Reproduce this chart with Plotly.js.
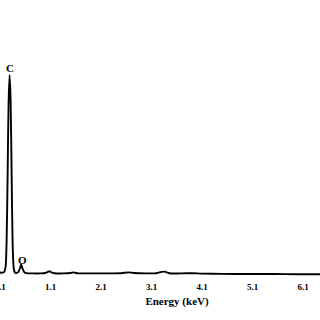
<!DOCTYPE html>
<html>
<head>
<meta charset="utf-8">
<script src="https://cdn.plot.ly/plotly-3.0.1.min.js"></script>
<style>
html,body{margin:0;padding:0;overflow:hidden;background:#fff;}
#chart{width:354px;height:320px;}
</style>
</head>
<body>
<div id="chart"></div>
<script>
// Energy (keV) and counts
const energy = [0.10,0.14,0.18,0.21,0.23,0.25,0.27,0.29,0.31,0.33,0.35,0.37,0.39,0.42,0.46,0.50,0.52,0.54,0.58,0.62,0.75,0.90,1.00,1.05,1.08,1.11,1.18,1.35,1.50,1.56,1.62,1.80,2.00,2.20,2.50,2.65,2.75,3.00,3.20,3.30,3.36,3.45,3.70,3.90,4.10,4.50,5.00,5.50,6.00,6.50,7.00,7.20];
const counts = [16,15,18,40,150,450,800,930,820,480,150,40,18,14,18,38,55,38,18,13,12,12,14,19,22,18,13,12,14,17,13,12,12,12,13,17,14,12,13,19,20,13,12,13,11,10,9,9,8,8,8,8];
const tickVals = [0.1,1.1,2.1,3.1,4.1,5.1,6.1];
const tickLabels = ["0.1","1.1","2.1","3.1","4.1","5.1","6.1"];
const peakNames = ["C","O"];
const peakEnergy = [0.30,0.555];
const peakLabelY = [963,72];

const serif = "Liberation Serif, Times New Roman, serif";

const trace = {
  x: energy, y: counts, type: 'scatter', mode: 'lines',
  line: {color: '#000', width: 1.9, shape: 'spline', smoothing: 0.6},
  hoverinfo: 'skip'
};

const annotations = peakNames.map((t, i) => ({
  x: peakEnergy[i], y: peakLabelY[i], xref: 'x', yref: 'y', text: t,
  showarrow: false, xanchor: 'center', yanchor: 'middle',
  font: {family: serif, size: 11, color: '#000', weight: 'bold'}
}));

const layout = {
  width: 354, height: 320,
  margin: {l: 0, r: 0, t: 60, b: 44},
  paper_bgcolor: '#fff', plot_bgcolor: '#fff',
  showlegend: false,
  xaxis: {
    range: [0.1, 7.11], tickmode: 'array', tickvals: tickVals, ticktext: tickLabels,
    showgrid: false, zeroline: false, showline: false,
    ticks: 'outside', ticklen: 2, tickcolor: 'rgba(0,0,0,0)',
    ticklabeloverflow: 'allow',
    tickfont: {family: serif, size: 9, color: '#000', weight: 'bold'},
    title: {text: 'Energy (keV)', standoff: 6, font: {family: serif, size: 11, color: '#000', weight: 'bold'}}
  },
  yaxis: {range: [0, 1000], visible: false, showgrid: false, zeroline: false},
  annotations: annotations
};

Plotly.newPlot('chart', [trace], layout, {displayModeBar: false, staticPlot: true});
</script>
</body>
</html>
